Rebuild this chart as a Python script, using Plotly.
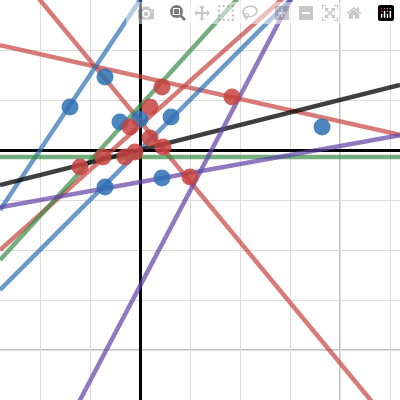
import numpy as np
import plotly.graph_objects as go

blue_x = [-1.4, -0.7, -0.4, 0.0, 0.62, -0.7, 0.44, 3.64]
blue_y = [0.86, 1.46, 0.56, 0.62, 0.66, -0.74, -0.56, 0.46]
red_x = [0.44, 0.2, -0.2, 1.84, -1.2, -0.74, -0.3, -0.1, 0.2, 0.46, 1.0]
red_y = [1.26, 0.86, 0.46, 1.06, -0.34, -0.14, -0.14, -0.04, 0.24, 0.06, -0.54]

# lines as (slope, intercept, colour)
line_slopes = [-0.224, -1.21, 0.89, 1.1, 1.5, 1.0, 0.0, 0.25, 0.18, 1.9]
line_intercepts = [1.47, 0.58, 0.49, 0.88, 3.0, 0.0, -0.14, 0.0, -0.64, -2.72]
line_colors = ['#c74440', '#c74440', '#c74440', '#388c46', '#2d70b3', '#2d70b3',
               '#388c46', '#000000', '#6042a6', '#6042a6']

xr = [-2.8, 5.2]
yr = [-5, 3]

fig = go.Figure()
xs = np.array(xr)
for m, b, c in zip(line_slopes, line_intercepts, line_colors):
    fig.add_trace(go.Scatter(x=xs, y=m * xs + b, mode='lines',
                             line=dict(color=c, width=4.5), opacity=0.7 if c != '#000000' else 0.75))

fig.add_trace(go.Scatter(x=blue_x, y=blue_y, mode='markers',
                         marker=dict(color='#2d70b3', size=17), opacity=0.85))
fig.add_trace(go.Scatter(x=red_x, y=red_y, mode='markers',
                         marker=dict(color='#c74440', size=17), opacity=0.85))

fig.add_shape(type='line', x0=4, x1=4, y0=yr[0], y1=yr[1], line=dict(color='#888', width=1), layer='below')
fig.add_shape(type='line', x0=xr[0], x1=xr[1], y0=-4, y1=-4, line=dict(color='#888', width=1), layer='below')

axis = dict(showticklabels=False, ticks='', dtick=1, gridcolor='#dcdcdc', gridwidth=1,
            zeroline=True, zerolinecolor='black', zerolinewidth=3, showline=False)
fig.update_layout(width=400, height=400, margin=dict(l=0, r=0, t=0, b=0),
                  plot_bgcolor='white', paper_bgcolor='white', showlegend=False,
                  xaxis=dict(range=xr, tick0=0, **axis),
                  yaxis=dict(range=yr, tick0=0, **axis))
fig.write_html("out.html", post_script="document.body.style.margin='0';")
